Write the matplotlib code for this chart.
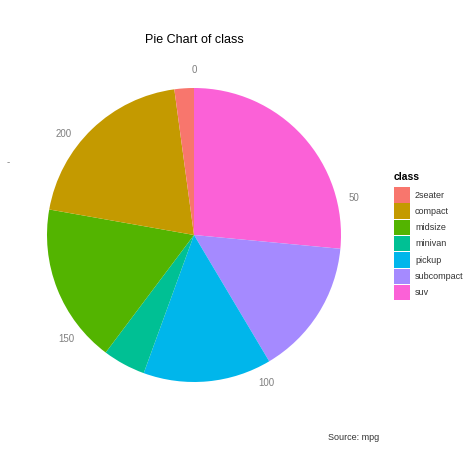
import numpy as np
import matplotlib
matplotlib.use("Agg")
import matplotlib.pyplot as plt
from matplotlib.patches import Rectangle

plt.rcParams['font.family'] = ['Liberation Sans', 'DejaVu Sans']

classes = ['2seater', 'compact', 'midsize', 'minivan', 'pickup', 'subcompact', 'suv']
counts = [5, 47, 41, 11, 33, 35, 62]
colors = ['#F8766D', '#C49A00', '#53B400', '#00C094', '#00B6EB', '#A58AFF', '#FB61D7']
tick_values = [0, 50, 100, 150, 200]

total = sum(counts)

fig = plt.figure(figsize=(4.74, 4.74), dpi=100)
W = H = 474.0
cx, cy, r = 194, 235, 147
half = 1.25 * r
ax = fig.add_axes([(cx - half) / W, (H - cy - half) / H, 2 * half / W, 2 * half / H])

# stacked from the top, clockwise: suv first, 2seater last
ax.pie(counts[::-1], colors=colors[::-1], startangle=90, counterclock=False,
       radius=1, wedgeprops=dict(linewidth=0))
ax.set_xlim(-1.25, 1.25)
ax.set_ylim(-1.25, 1.25)
ax.set_aspect('equal')
ax.axis('off')

for v in tick_values:
    ang = np.deg2rad(90 - v / total * 360)
    ax.text(1.12 * np.cos(ang), 1.12 * np.sin(ang), str(v), ha='center', va='center',
            fontsize=7, color='#7F7F7F')

fig.text(8 / W, 1 - 162 / H, '-', ha='center', va='center', fontsize=7, color='#7F7F7F')
fig.text(194 / W, 1 - 40 / H, 'Pie Chart of class', ha='center', va='center', fontsize=9)
fig.text(379 / W, 1 - 437 / H, 'Source: mpg', ha='right', va='center', fontsize=6.5, color='#333333')

# legend
fig.text(394 / W, 1 - 177 / H, 'class', ha='left', va='center', fontsize=7.5, fontweight='bold')
for i, (c, col) in enumerate(zip(classes, colors)):
    y = 187 + i * 16.3
    fig.patches.append(Rectangle((394 / W, 1 - (y + 15.5) / H), 15.5 / W, 15.5 / H,
                                 transform=fig.transFigure, facecolor=col, edgecolor='none'))
    fig.text(415 / W, 1 - (y + 8) / H, c, ha='left', va='center', fontsize=6.5, color='#333333')

fig.savefig('out.png', dpi=100, facecolor='white')
